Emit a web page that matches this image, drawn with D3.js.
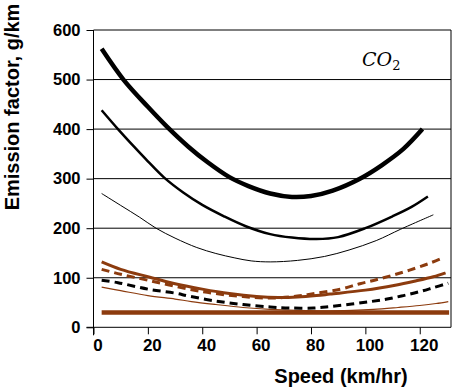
<!DOCTYPE html>
<html>
<head>
<meta charset="utf-8">
<script src="https://cdn.jsdelivr.net/npm/d3@7"></script>
<style>
  html, body { margin: 0; padding: 0; background: #fff; }
  svg { display: block; }
</style>
</head>
<body>
<svg id="chart" width="454" height="392"></svg>
<script>
// ---- data (speed km/hr, emission factor g/km) ----
const xTicks = [0, 20, 40, 60, 80, 100, 120];
const yTicks = [0, 100, 200, 300, 400, 500, 600];
const xTitle = "Speed (km/hr)";
const yTitle = "Emission factor, g/km";

const thickBlack = [[3,562],[11,500],[20,445],[27,405],[35,364],[42,333],[50,303],[57,285],[65,270],[73,263],[80,265],[88,276],[98,300],[106,327],[114,360],[121,400]];
const mediumBlack = [[3,438],[9,400],[15,364],[20,335],[26,302],[33,272],[40,247],[48,224],[56,204],[65,188],[73,181],[82,178],[90,182],[100,200],[110,224],[117,243],[123,264]];
const thinBlack = [[3,270],[10,246],[17,222],[23,200],[30,180],[38,161],[45,149],[52,140],[58,134],[65,132],[75,135],[85,143],[94,156],[104,175],[113,198],[125,227]];
const brownSolid = [[3,132],[10,117],[20,102],[30,88],[40,77],[50,68],[60,62],[68,60],[75,61],[82,64],[87,67],[100,75],[111,85],[118,93],[125,102],[129.5,110]];
const brownDashed = [[3,117],[10,107],[20,95],[35,77],[45,68],[55,62],[65,59],[75,63],[82,69],[91,77],[98,88],[104,96],[110,105],[116,115],[123,128],[128,139]];
const blackDashed = [[3,95],[9,90],[20,77],[30,69],[35,63],[45,53],[55,46],[65,41],[72,39],[81,39],[87,42],[95,47],[102,52],[108,57],[114,64],[120,72],[125,80],[130.5,89]];
const brownThin = [[3,81],[10,74],[20,64],[30,57],[36,52],[45,46],[55,40],[65,36],[75,34],[85,33],[95,34],[103,36],[112,40],[120,44],[126,48],[130.5,52]];
const brownFlat = [[3,30],[130.8,30]];

const BROWN = "#8c3b0e";
const series = [
  { data: brownFlat,   color: BROWN,  width: 4.5, dash: null },
  { data: brownThin,   color: BROWN,  width: 1.2, dash: null },
  { data: blackDashed, color: "#000", width: 3,   dash: "8,5" },
  { data: brownDashed, color: BROWN,  width: 3,   dash: "8,5" },
  { data: brownSolid,  color: BROWN,  width: 3,   dash: null },
  { data: thinBlack,   color: "#000", width: 1,   dash: null },
  { data: mediumBlack, color: "#000", width: 2.5, dash: null },
  { data: thickBlack,  color: "#000", width: 4.5, dash: null }
];

// ---- layout ----
const svg = d3.select("#chart");
const mLeft = 93.5, mRight = 451, mTop = 30, mBottom = 327.3;
const x = d3.scaleLinear().domain([0, 131.5]).range([mLeft, mRight]);
const y = d3.scaleLinear().domain([0, 600]).range([mBottom, mTop]);
const FONT = "'Liberation Sans', Arial, Helvetica, sans-serif";

svg.append("rect").attr("width", 454).attr("height", 392).attr("fill", "#fff");

// gridlines
svg.append("g").selectAll("line").data(yTicks.filter(d => d > 0)).join("line")
  .attr("x1", mLeft).attr("x2", mRight)
  .attr("y1", d => y(d)).attr("y2", d => y(d))
  .attr("stroke", "#000").attr("stroke-width", 1);

// right border
svg.append("line").attr("x1", mRight).attr("x2", mRight).attr("y1", mTop).attr("y2", mBottom)
  .attr("stroke", "#000").attr("stroke-width", 1);

// y axis
const yAxis = svg.append("g").attr("transform", `translate(${mLeft},0)`)
  .call(d3.axisLeft(y).tickValues(yTicks).tickSize(7).tickPadding(6));
yAxis.select(".domain").attr("d", `M0,${mTop}V${mBottom + 8}`).attr("stroke", "#000");
yAxis.selectAll("text").attr("font-family", FONT).attr("font-weight", "bold")
  .attr("font-size", 16.5).attr("fill", "#000");

// x axis
const xAxis = svg.append("g").attr("transform", `translate(0,${mBottom})`)
  .call(d3.axisBottom(x).tickValues(xTicks).tickSize(7).tickPadding(5));
xAxis.select(".domain").attr("d", `M${mLeft - 7},0H${mRight}`).attr("stroke", "#000");
xAxis.selectAll("text").attr("font-family", FONT).attr("font-weight", "bold")
  .attr("font-size", 17).attr("fill", "#000").attr("dx", 4);

// titles
svg.append("text").attr("x", 341).attr("y", 383).attr("text-anchor", "middle")
  .attr("font-family", FONT).attr("font-weight", "bold").attr("font-size", 20)
  .text(xTitle);
svg.append("text").attr("transform", "translate(19,107) rotate(-90)").attr("text-anchor", "middle")
  .attr("font-family", FONT).attr("font-weight", "bold").attr("font-size", 20)
  .text(yTitle);

// CO2 label
const co2 = svg.append("text").attr("x", 362).attr("y", 66)
  .attr("font-family", "'DejaVu Serif', 'Liberation Serif', serif").attr("font-size", 19);
co2.append("tspan").attr("font-style", "italic").text("CO");
co2.append("tspan").attr("font-size", 13).attr("dy", 4).text("2");

// lines
const line = d3.line().x(d => x(d[0])).y(d => y(d[1])).curve(d3.curveCatmullRom.alpha(0.5));
svg.append("g").selectAll("path").data(series).join("path")
  .attr("d", d => line(d.data))
  .attr("fill", "none")
  .attr("stroke", d => d.color)
  .attr("stroke-width", d => d.width)
  .attr("stroke-dasharray", d => d.dash);
</script>
</body>
</html>
